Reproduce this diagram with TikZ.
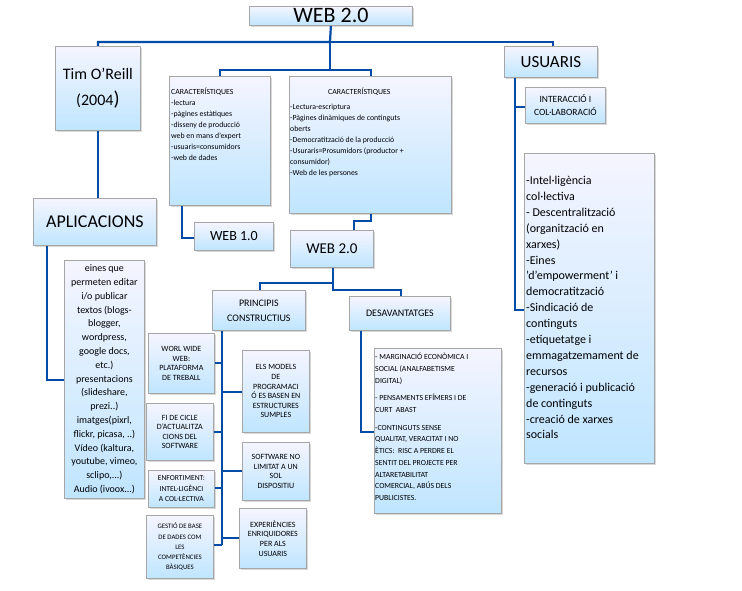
\documentclass[tikz,border=0pt]{standalone}
\usepackage{fontspec}
\setmainfont{Carlito}
\usetikzlibrary{shadows}
\begin{document}
\begin{tikzpicture}[x=1pt,y=-1pt,
 box/.style={draw=black!35,line width=0.8pt,top color=blue!4,bottom color=blue!40!cyan!25!white,
   drop shadow={shadow xshift=1.5pt,shadow yshift=-1.5pt,fill=black!30},inner sep=1pt,anchor=north west},
 ln/.style={draw=blue!50!black!70!cyan,line width=2.2pt},
 txt/.style={anchor=north west,inner sep=0pt,align=left},
 sc/.style={font=\fontsize{8}{9.6}\selectfont,align=center}]
\useasboundingbox (0,0) rectangle (742,591);
\node[box,minimum width=163pt,minimum height=19pt,font=\fontsize{22}{22}\selectfont] (top) at (249,6) {WEB 2.0};
\node[box,minimum width=85pt,minimum height=84pt,align=center,font=\fontsize{16}{26}\selectfont] (tim) at (55,46) {Tim O'Reill\\(2004\fontsize{20}{20}\selectfont)};
\node[box,minimum width=93pt,minimum height=31pt,font=\fontsize{17}{17}\selectfont] (usu) at (504,46) {USUARIS};
\node[box,minimum width=101pt,minimum height=129pt] (c1) at (169,76) {};
\node[txt,font=\fontsize{7.8}{11}\selectfont] (c1t) at (171,88) {CARACTERÍSTIQUES\\-lectura\\-pàgines estàtiques\\-disseny de producció\\web en mans d'expert\\-usuaris=consumidors\\-web de dades};
\node[box,minimum width=162pt,minimum height=137pt] (c2) at (289,76) {};
\node[txt,font=\fontsize{7.8}{11}\selectfont] (c2t) at (290,88) {\hspace*{38pt}CARACTERÍSTIQUES\\[4pt]-Lectura-escriptura\\-Pàgines dinàmiques de continguts\\oberts\\-Democratització de la producció\\-Usuraris=Prosumidors (productor +\\consumidor)\\-Web de les persones};
\node[box,minimum width=80pt,minimum height=36pt,align=center,font=\fontsize{9.5}{13}\selectfont] (int) at (525,87) {INTERACCIÓ I\\COL·LABORACIÓ};
\node[box,minimum width=130pt,minimum height=310pt] (big) at (524,153) {};
\node[txt,font=\fontsize{12}{15.9}\selectfont] (bigt) at (526,176) {-Intel·ligència\\col·lectiva\\- Descentralització\\(organització en\\xarxes)\\-Eines\\'d'empowerment' i\\democratització\\-Sindicació de\\continguts\\-etiquetatge i\\emmagatzemament de\\recursos\\-generació i publicació\\de continguts\\-creació de xarxes\\socials};
\node[box,minimum width=123pt,minimum height=47pt,font=\fontsize{18}{18}\selectfont] (apl) at (33,198) {APLICACIONS};
\node[box,minimum width=80pt,minimum height=238pt,align=center,font=\fontsize{10}{13.8}\selectfont] (ein) at (64,260) {eines que\\permeten editar\\i/o publicar\\textos (blogs-\\blogger,\\wordpress,\\google docs,\\etc.)\\presentacions\\(slideshare,\\prezi..)\\imatges(pixrl,\\flickr, picasa, ..)\\Vídeo (kaltura,\\youtube, vimeo,\\sclipo,...)\\Audio (ivoox...)};
\node[box,minimum width=79pt,minimum height=28pt,font=\fontsize{14}{14}\selectfont] (w1) at (194,222) {WEB 1.0};
\node[box,minimum width=83pt,minimum height=37pt,font=\fontsize{15}{15}\selectfont] (w2) at (290,230) {WEB 2.0};
\node[box,minimum width=93pt,minimum height=40pt,align=center,font=\fontsize{10}{15}\selectfont] (pri) at (212,290) {PRINCIPIS\\CONSTRUCTIUS};
\node[box,minimum width=101pt,minimum height=34pt,font=\fontsize{10}{12}\selectfont] (des) at (349,296) {DESAVANTATGES};
\node[box,minimum width=66pt,minimum height=60pt,sc] (wor) at (148,333) {WORL WIDE\\WEB:\\PLATAFORMA\\DE TREBALL};
\node[box,minimum width=67pt,minimum height=82pt,sc] (els) at (242,350) {ELS MODELS\\DE\\PROGRAMACI\\Ó ES BASEN EN\\ESTRUCTURES\\SUMPLES};
\node[box,minimum width=67pt,minimum height=57pt,sc] (fi) at (146,403) {FI DE CICLE\\D'ACTUALITZA\\CIONS DEL\\SOFTWARE};
\node[box,minimum width=67pt,minimum height=58pt,sc] (sof) at (242,442) {SOFTWARE NO\\LIMITAT A UN\\SOL\\DISPOSITIU};
\node[box,minimum width=66pt,minimum height=37pt,sc,font=\fontsize{7.6}{10.5}\selectfont] (enf) at (148,470) {ENFORTIMENT:\\INTEL·LIGÈNCI\\A COL·LECTIVA};
\node[box,minimum width=67pt,minimum height=63pt,align=center,font=\fontsize{6.8}{10.2}\selectfont] (ges) at (146,515) {GESTIÓ DE BASE\\DE DADES COM\\LES\\COMPETÈNCIES\\BÀSIQUES};
\node[box,minimum width=67pt,minimum height=60pt,sc] (exp) at (239,508) {EXPERIÈNCIES\\ENRIQUIDORES\\PER ALS\\USUARIS};
\node[box,minimum width=127pt,minimum height=165pt] (dtx) at (374,348) {};
\node[txt,font=\fontsize{7.8}{11.7}\selectfont] (dtxt) at (375,353) {- MARGINACIÓ ECONÒMICA I\\SOCIAL (ANALFABETISME\\DIGITAL)\\[6pt]- PENSAMENTS EFÍMERS I DE\\CURT\ \ ABAST\\[6pt]-CONTINGUTS SENSE\\QUALITAT, VERACITAT I NO\\ÈTICS:\ \ RISC A PERDRE EL\\SENTIT DEL PROJECTE PER\\ALTARETABILITAT\\COMERCIAL, ABÚS DELS\\PUBLICISTES.};
% connectors
\coordinate (j1) at (330,42);
\draw[ln] (top.south) -- (j1) -| (tim.north -| 98,0);
\draw[ln] (j1) -| (usu.north -| 553,0);
\coordinate (j2) at (330,70);
\draw[ln] (j1) -- (j2) -| (c1.north -| 220,0);
\draw[ln] (j2) -| (c2.north -| 371,0);
\draw[ln] (tim.south -| 98,0) |- (98,186) -- (apl.north -| 98,0);
\draw[ln] (apl.south -| 47,0) |- (ein.west |- 0,380);
\draw[ln] (c1.south -| 182,0) |- (w1.west |- 0,238);
\draw[ln] (c2.south -| 371,0) -- (371,221) -| (w2.north -| 354,0);
\coordinate (j3) at (333,283);
\draw[ln] (w2.south -| 333,0) -- (j3) -| (pri.north -| 260,0);
\draw[ln] (j3) |- (401,290) -- (des.north -| 401,0);
\draw[ln] (pri.south -| 222,0) -- (222,545);
\draw[ln] (222,363) -- (wor.east |- 0,363);
\draw[ln] (222,432) -- (fi.east |- 0,432);
\draw[ln] (222,488) -- (enf.east |- 0,488);
\draw[ln] (222,545) -- (ges.east |- 0,545);
\draw[ln] (222,392) -- (els.west |- 0,392);
\draw[ln] (222,471) -- (sof.west |- 0,471);
\draw[ln] (222,538) -- (exp.west |- 0,538);
\draw[ln] (des.south -| 361,0) |- (dtx.west |- 0,432);
\draw[ln] (usu.south -| 515,0) |- (big.west |- 0,310);
\draw[ln] (515,107) -- (int.west |- 0,107);
\end{tikzpicture}
\end{document}
